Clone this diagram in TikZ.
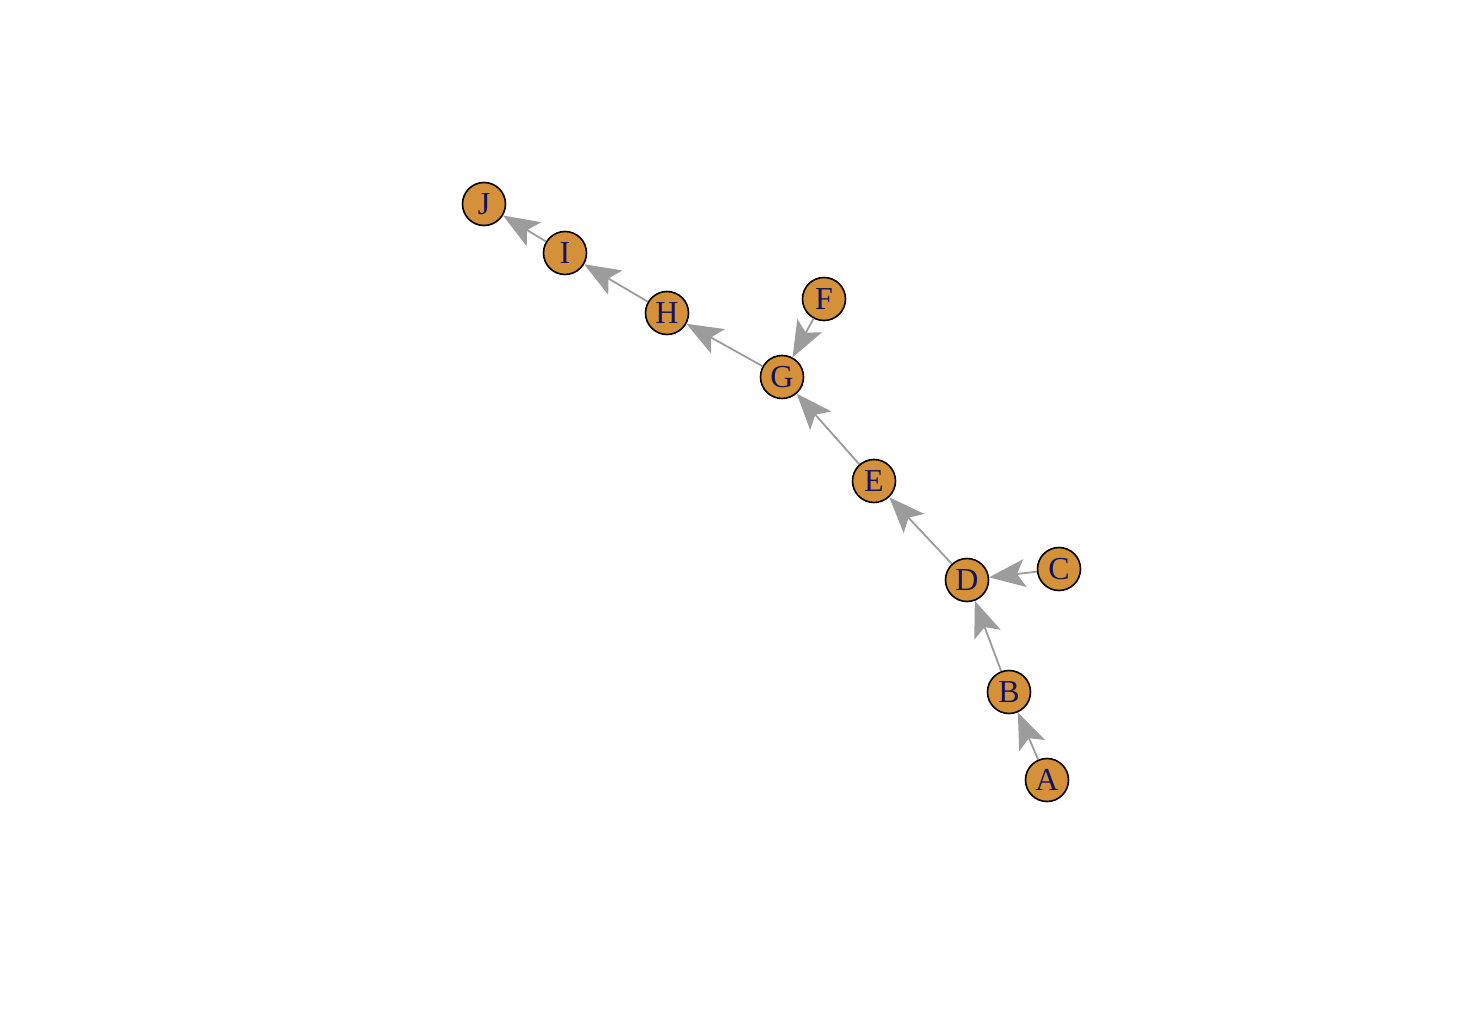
\documentclass[tikz,border=0pt]{standalone}
\usepackage{fontspec}
\setmainfont{Liberation Serif}
\usetikzlibrary{arrows.meta}
\definecolor{vfill}{HTML}{D4913A}
\definecolor{vlab}{HTML}{14145E}
\definecolor{egray}{HTML}{9C9C9C}
\begin{document}
\begin{tikzpicture}[x=1pt,y=-1pt,
  vert/.style={circle,draw=black,line width=1.6pt,fill=vfill,minimum size=43pt,inner sep=0pt,
    text=vlab,font=\fontsize{32}{32}\selectfont},
  edge/.style={draw=egray,line width=1.8pt,-{Stealth[length=36pt,width=28pt,inset=8pt]}}]
\useasboundingbox (0,0) rectangle (1468,1022);
\fill[white] (0,0) rectangle (1468,1022);
\node[vert] (J) at (484,204) {J};
\node[vert] (I) at (565,253) {I};
\node[vert] (H) at (667,313) {H};
\node[vert] (F) at (824,299) {F};
\node[vert] (G) at (782,377) {G};
\node[vert] (E) at (874,481) {E};
\node[vert] (D) at (967,580) {D};
\node[vert] (C) at (1059,569) {C};
\node[vert] (B) at (1009,692) {B};
\node[vert] (A) at (1047,780) {A};
\draw[edge] (A) -- (B);
\draw[edge] (B) -- (D);
\draw[edge] (C) -- (D);
\draw[edge] (D) -- (E);
\draw[edge] (E) -- (G);
\draw[edge] (F) -- (G);
\draw[edge] (G) -- (H);
\draw[edge] (H) -- (I);
\draw[edge] (I) -- (J);
\end{tikzpicture}
\end{document}
